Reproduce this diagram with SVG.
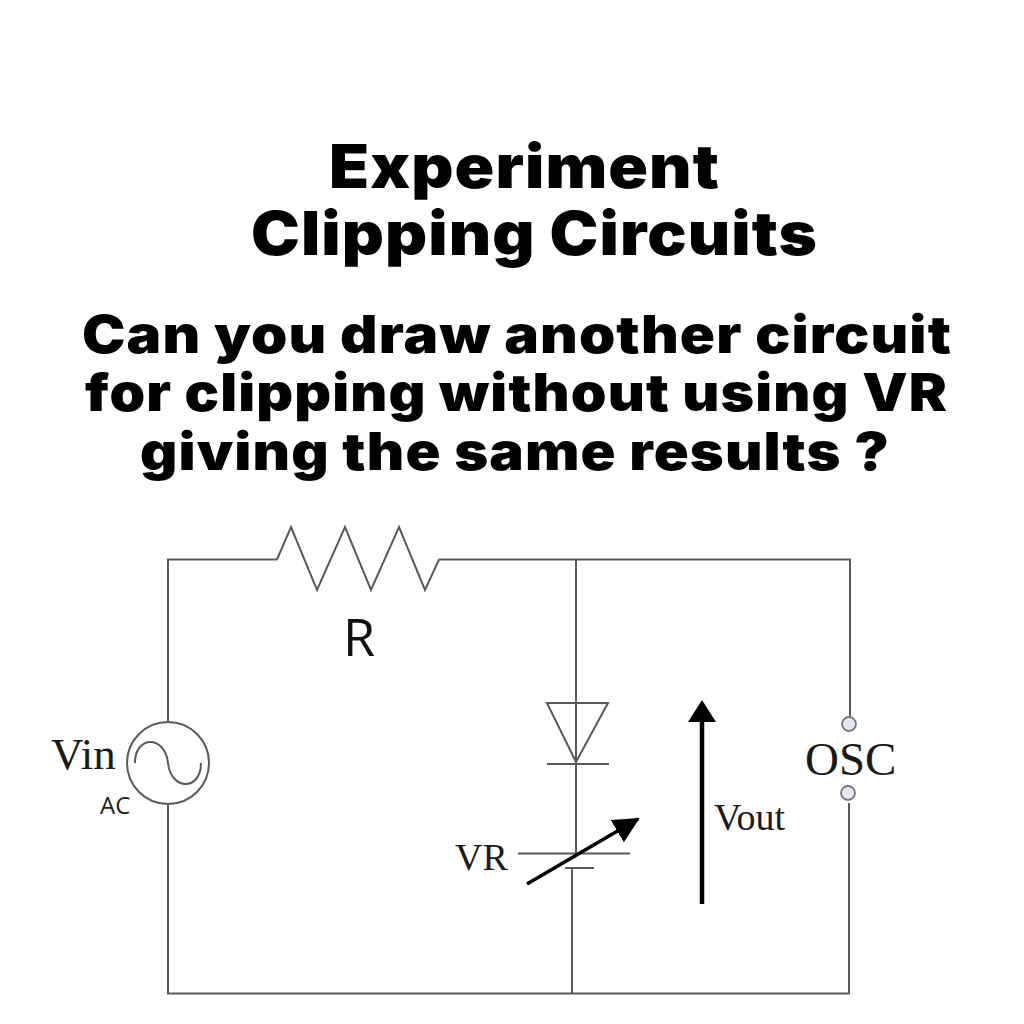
<svg xmlns="http://www.w3.org/2000/svg" width="1024" height="1024" viewBox="0 0 1024 1024">
<style>
.h{font-family:"Inter","Liberation Sans",sans-serif;font-weight:900;fill:#000;letter-spacing:1px}
.t{font-size:60px}
.q{font-size:52px}
.w{fill:none;stroke:#5a5a5a;stroke-width:2}
.s{font-family:"Liberation Serif",serif;fill:#1a1a1a}
.c{font-family:"Open Sans","Liberation Sans",sans-serif;fill:#222}
</style>
<defs><marker id="m" markerUnits="userSpaceOnUse" markerWidth="30" markerHeight="30" refX="24" refY="13" orient="auto"><path d="M0 0L26 13L0 26Z" fill="#000"/></marker></defs>
<rect width="1024" height="1024" fill="#fff"/>
<g id="title">
<text class="h t" x="329" y="188" textLength="391" lengthAdjust="spacingAndGlyphs">Experiment</text>
<text class="h t" x="251" y="255" textLength="567" lengthAdjust="spacingAndGlyphs">Clipping Circuits</text>
</g>
<g id="question">
<text class="h q" x="82" y="353" textLength="870" lengthAdjust="spacingAndGlyphs">Can you draw another circuit</text>
<text class="h q" x="85" y="411" textLength="863" lengthAdjust="spacingAndGlyphs">for clipping without using VR</text>
<text class="h q" x="140" y="470" textLength="750" lengthAdjust="spacingAndGlyphs">giving the same results ?</text>
</g>
<g id="connectors">
<path class="w" d="M168 722V559.500H277M439 559.500H850V717M849 803V993.500H168V804M576 560V853M572 868V993"/>
</g>
<g id="resistor">
<path class="w" d="M277 559.500L291 527L317 590L345 527L371 590L399 527L425 590L439 559.500"/>
<text x="359" y="656" text-anchor="middle" font-size="52" class="c" style="font-weight:500;fill:#111">R</text>
</g>
<g id="source">
<circle class="w" cx="168" cy="763" r="41"/>
<path class="w" d="M135 763C135 735 165 735 168 763C171 791 201 791 201 763"/>
<text class="s" x="51" y="769" font-size="45">Vin</text>
<text class="c" x="100" y="814" font-size="24">AC</text>
</g>
<g id="diode">
<path class="w" d="M547 703H608L576 762ZM547 764H609"/>
</g>
<g id="vr">
<path class="w" d="M518 853.500H630M565 868H594"/>
<path d="M527 884L638 819" stroke="#000" stroke-width="3.500" fill="none" marker-end="url(#m)"/>
<text class="s" x="455" y="870" font-size="38">VR</text>
</g>
<g id="vout">
<path d="M702 904V715" stroke="#000" stroke-width="4.500" fill="none"/>
<path d="M702 700L716 722H688Z" fill="#000"/>
<text class="s" x="714" y="830" font-size="38">Vout</text>
</g>
<g id="osc">
<circle cx="849" cy="724" r="7" fill="#e4e8f4" stroke="#777" stroke-width="1.800"/>
<circle cx="848" cy="793" r="7" fill="#e4e8f4" stroke="#777" stroke-width="1.800"/>
<text class="s" x="805" y="775" font-size="47">OSC</text>
</g>
</svg>
